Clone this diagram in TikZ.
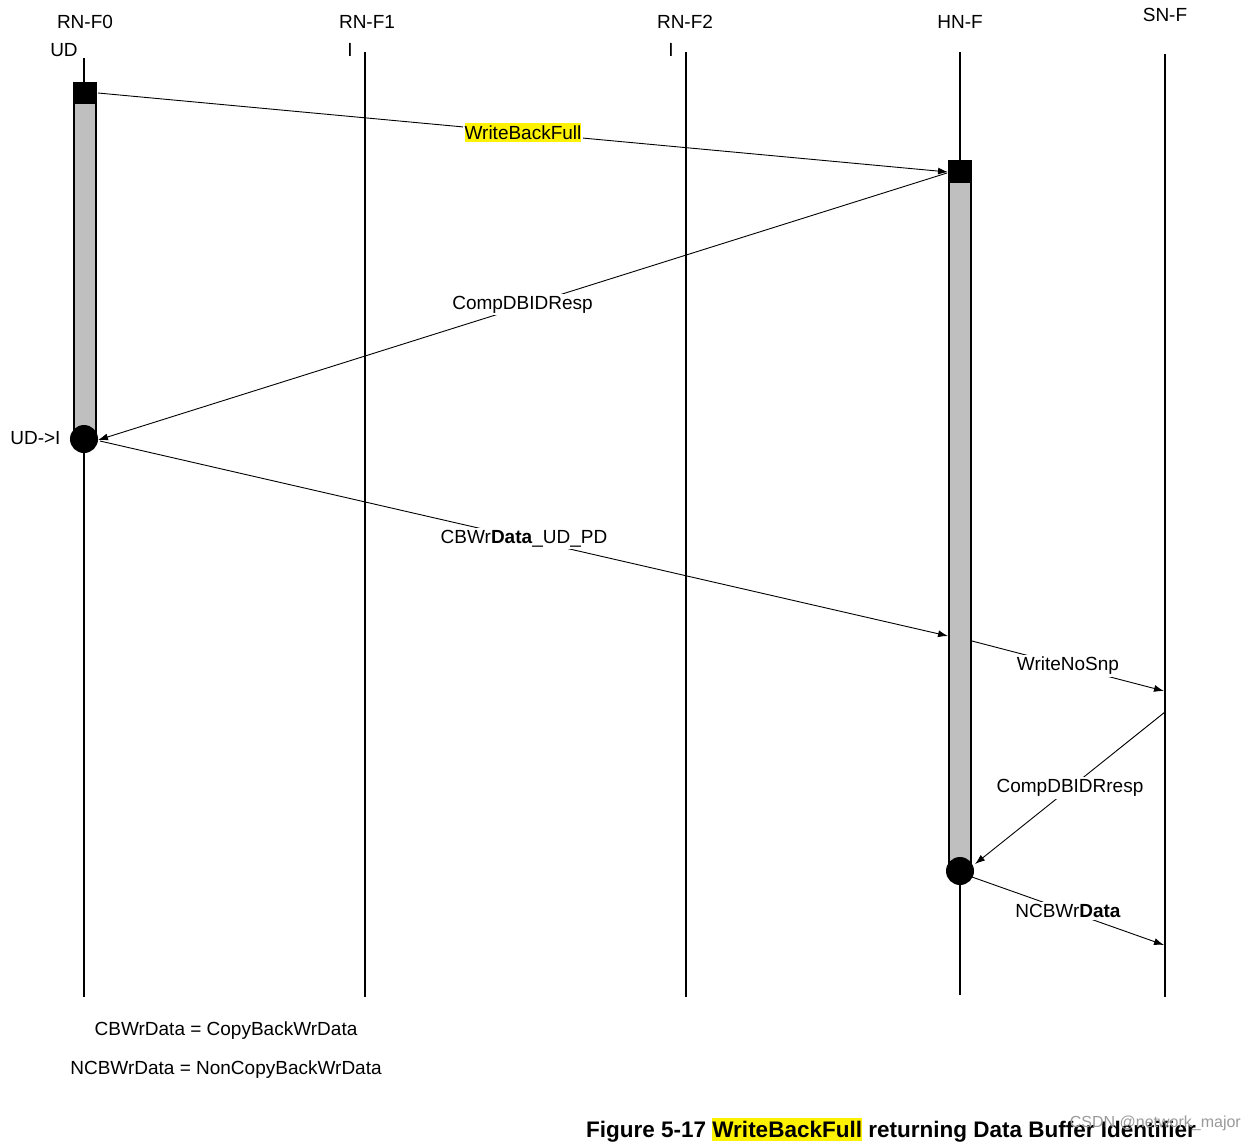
\documentclass[tikz,border=0pt]{standalone}
\usepackage{fontspec}
\setmainfont{Liberation Sans}
\usetikzlibrary{arrows.meta}
\begin{document}
\begin{tikzpicture}[x=1pt,y=-1pt,
  life/.style={line width=2.2pt},
  bar/.style={fill=black!25,draw=black,line width=1.2pt},
  msg/.style={-{Latex[length=10pt,width=7pt]},line width=0.9pt},
  lbl/.style={fill=white,inner sep=2pt,font=\fontsize{19}{21}\selectfont},
  txt/.style={font=\fontsize{19}{21}\selectfont}]
\useasboundingbox (0,0) rectangle (1257,1143);
% headers
\node[txt] (h0) at (85,22) {RN-F0};
\node[txt] (s0) at (64,50) {UD};
\node[txt] (h1) at (367,22) {RN-F1};
\node[txt] (s1) at (350,50) {I};
\node[txt] (h2) at (685,22) {RN-F2};
\node[txt] (s2) at (671,50) {I};
\node[txt] (h3) at (960,22) {HN-F};
\node[txt] (h4) at (1165,15) {SN-F};
% lifelines
\draw[life] (84,58) -- (84,997);
\draw[life] (365,52) -- (365,997);
\draw[life] (686,52) -- (686,997);
\draw[life] (960,52) -- (960,995);
\draw[life] (1165,54) -- (1165,997);
% bars
\draw[bar] (74,92) rectangle (96,436);
\fill (73,82) rectangle (97,104);
\draw[bar] (949,170) rectangle (971,868);
\fill (948,160) rectangle (972,183);
\fill (84,439) circle (14);
\fill (960,871) circle (14);
\node[txt,anchor=east] (ui) at (64,438) {UD->I};
% message endpoints
\coordinate (a1) at (98,93); \coordinate (b1) at (948,172);
\coordinate (b2) at (947,173); \coordinate (a2) at (98,440);
\coordinate (a3) at (100,441); \coordinate (b3) at (948,636);
\coordinate (b4) at (972,641); \coordinate (c4) at (1164,691);
\coordinate (c5) at (1165,712); \coordinate (b5) at (975,864);
\coordinate (b6) at (972,877); \coordinate (c6) at (1164,945);
\draw[msg] (a1) -- node[lbl,pos=0.5] (m1) {\colorbox{yellow}{\kern-3pt WriteBackFull\kern-3pt}} (b1);
\draw[msg] (b2) -- node[lbl,pos=0.5,yshift=2pt] (m2) {CompDBIDResp} (a2);
\draw[msg] (a3) -- node[lbl,pos=0.5] (m3) {CBWr\textbf{Data}\_UD\_PD} (b3);
\draw[msg] (b4) -- node[lbl,pos=0.5] (m4) {WriteNoSnp} (c4);
\draw[msg] (c5) -- node[lbl,pos=0.5] (m5) {CompDBIDRresp} (b5);
\draw[msg] (b6) -- node[lbl,pos=0.5] (m6) {NCBWr\textbf{Data}} (c6);
% footer
\node[txt] (f1) at (226,1031) {CBWrData = CopyBackWrData};
\node[txt] (f2) at (226,1070) {NCBWrData = NonCopyBackWrData};
\node[anchor=east,font=\fontsize{22.5}{25}\selectfont\bfseries,inner sep=0pt] (cap) at (1196,1130) {Figure 5-17 \colorbox{yellow}{\kern-3pt WriteBackFull\kern-3pt} returning Data Buffer Identifier};
\node[anchor=east,font=\fontsize{16}{18}\selectfont,text=black!40,inner sep=0pt] (wm) at (1241,1123) {CSDN @network\_major};
\end{tikzpicture}
\end{document}
